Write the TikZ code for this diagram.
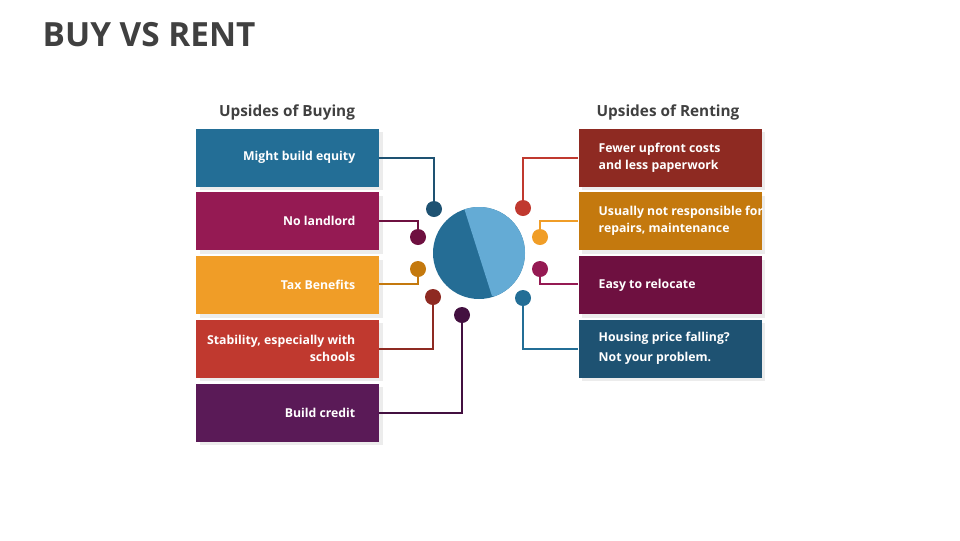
\documentclass[tikz,border=0pt]{standalone}
\usepackage{fontspec}
\setmainfont{Open Sans}
\usetikzlibrary{shadows}
\begin{document}
\begin{tikzpicture}[x=0.75pt,y=-0.75pt,
  box/.style={minimum width=183*0.75pt,minimum height=58*0.75pt,inner sep=0pt,text=white,font=\fontsize{9.2}{12}\selectfont\bfseries},
  dot/.style={circle,minimum size=16*0.75pt,inner sep=0pt},
  conn/.style={line width=1.3pt},
  hdr/.style={font=\fontsize{11.5}{14}\selectfont\bfseries,text=black!75}]
\definecolor{cA}{HTML}{236E96}\definecolor{cB}{HTML}{951A53}\definecolor{cC}{HTML}{F09D27}
\definecolor{cD}{HTML}{C0392F}\definecolor{cE}{HTML}{5A1A57}
\definecolor{dA}{HTML}{1E5272}\definecolor{dB}{HTML}{6E1040}\definecolor{dC}{HTML}{C4790E}
\definecolor{dD}{HTML}{8E2A22}\definecolor{dE}{HTML}{431040}
\definecolor{pl}{HTML}{64ABD5}\definecolor{pd}{HTML}{256D95}
\useasboundingbox (0,0) rectangle (960,540);
\node[anchor=base west,font=\fontsize{25}{30}\selectfont\bfseries,text=black!75] (title) at (38,46) {BUY VS RENT};
\node[hdr] (hl) at (287,112) {Upsides of Buying};
\node[hdr] (hr) at (668,112) {Upsides of Renting};
% left boxes
\foreach \n/\y/\c/\t in {l1/157.5/cA/{Might build equity},l2/221/cB/{No landlord},l3/285/cC/{Tax Benefits},l4/348.5/cD/{Stability, especially with\\schools},l5/412.5/cE/{Build credit}}{
  \node[box,fill=\c,drop shadow={opacity=0.15}] (\n) at (287.5,\y) {};
  \node[anchor=east,align=right,text=white,font=\fontsize{9.2}{12.8}\selectfont\bfseries] (\n t) at (360,\y) {\t};
}
\foreach \n/\y/\c/\t in {r1/157.5/dD/{Fewer upfront costs\\and less paperwork},r2/221/dC/{Usually not responsible for\\repairs, maintenance},r3/285/dB/{Easy to relocate},r4/348.5/dA/{Housing price falling?\\[2pt]Not your problem.}}{
  \node[box,fill=\c,drop shadow={opacity=0.15}] (\n) at (670,\y) {};
  \node[anchor=west,align=left,text=white,font=\fontsize{9.2}{12.8}\selectfont\bfseries] (\n t) at (594,\y) {\t};
}
% pie
\fill[pd] (479,253) circle (46);
\begin{scope}
\clip (479,253) circle (46);
\fill[pl] (464,208) -- (492,296) -- (560,296) -- (560,200) -- cycle;
\end{scope}
\node[circle,minimum size=92*0.75pt] (pie) at (479,253) {};
% dots
\node[dot,fill=dA] (a1) at (434,209) {};
\node[dot,fill=dB] (a2) at (418,237) {};
\node[dot,fill=dC] (a3) at (418,269) {};
\node[dot,fill=dD] (a4) at (433,297) {};
\node[dot,fill=dE] (a5) at (462,315) {};
\node[dot,fill=cD] (b1) at (523,208) {};
\node[dot,fill=cC] (b2) at (540,237) {};
\node[dot,fill=cB] (b3) at (540,269) {};
\node[dot,fill=cA] (b4) at (523,298) {};
% connectors
\draw[conn,dA] (l1.east |- 0,158) -| (a1);
\draw[conn,dB] (l2.east |- 0,221) -| (a2);
\draw[conn,dC] (l3.east |- 0,284) -| (a3);
\draw[conn,dD] (l4.east |- 0,349) -| (a4);
\draw[conn,dE] (l5.east |- 0,413) -| (a5);
\draw[conn,cD] (r1.west |- 0,158) -| (b1);
\draw[conn,cC] (r2.west |- 0,221) -| (b2);
\draw[conn,cB] (r3.west |- 0,284) -| (b3);
\draw[conn,cA] (r4.west |- 0,349) -| (b4);
\end{tikzpicture}
\end{document}
